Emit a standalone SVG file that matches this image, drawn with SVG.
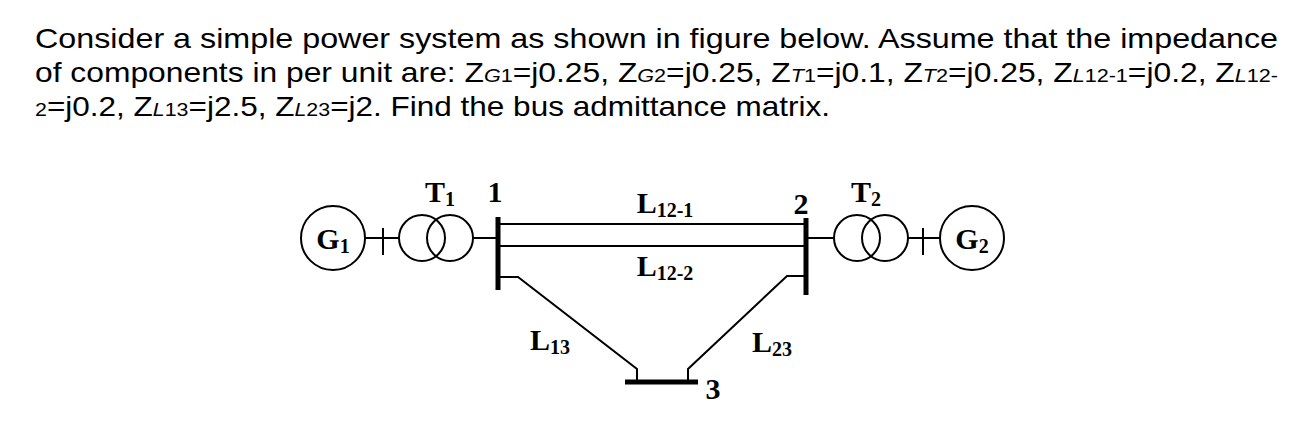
<svg xmlns="http://www.w3.org/2000/svg" width="1298" height="424" viewBox="0 0 1298 424">
<style>
.q{font-family:"Liberation Sans",Arial,sans-serif;font-size:28px;fill:#000}
.s{font-size:19px}
.l{font-family:"Liberation Serif","Times New Roman",serif;font-weight:bold;font-size:30px;fill:#000}
.ls{font-size:20px}
.w{stroke:#000;stroke-width:2;fill:none}
.b{stroke:#000;stroke-width:5;fill:none}
</style>
<rect width="1298" height="424" fill="#fff"/>
<text class="q" x="35" y="48" textLength="1243" lengthAdjust="spacingAndGlyphs">Consider a simple power system as shown in figure below. Assume that the impedance</text>
<text class="q" x="35" y="82" textLength="1243" lengthAdjust="spacingAndGlyphs">of components in per unit are: Z<tspan class="s" font-style="italic">G</tspan><tspan class="s">1</tspan>=j0.25, Z<tspan class="s" font-style="italic">G</tspan><tspan class="s">2</tspan>=j0.25, Z<tspan class="s" font-style="italic">T</tspan><tspan class="s">1</tspan>=j0.1, Z<tspan class="s" font-style="italic">T</tspan><tspan class="s">2</tspan>=j0.25, Z<tspan class="s" font-style="italic">L</tspan><tspan class="s">12-1</tspan>=j0.2, Z<tspan class="s" font-style="italic">L</tspan><tspan class="s">12-</tspan></text>
<text class="q" x="35" y="116" textLength="795" lengthAdjust="spacingAndGlyphs"><tspan class="s">2</tspan>=j0.2, Z<tspan class="s" font-style="italic">L</tspan><tspan class="s">13</tspan>=j2.5, Z<tspan class="s" font-style="italic">L</tspan><tspan class="s">23</tspan>=j2. Find the bus admittance matrix.</text>
<g id="G1"><circle class="w" cx="333" cy="238" r="32"/><text class="l" x="333" y="249" text-anchor="middle">G<tspan class="ls" dy="4">1</tspan></text></g>
<g id="T1"><circle class="w" cx="422" cy="238" r="23"/><circle class="w" cx="450" cy="238" r="23"/><text class="l" x="440" y="202" text-anchor="middle">T<tspan class="ls" dy="4">1</tspan></text></g>
<g id="bus1"><line class="b" x1="498" y1="217" x2="498" y2="290"/><text class="l" x="495" y="202" text-anchor="middle">1</text></g>
<g id="bus2"><line class="b" x1="806" y1="218" x2="806" y2="295"/><text class="l" x="801" y="214" text-anchor="middle">2</text></g>
<g id="bus3"><line class="b" x1="625" y1="382" x2="698" y2="382"/><text class="l" x="713" y="399" text-anchor="middle">3</text></g>
<g id="T2"><circle class="w" cx="857" cy="238" r="23"/><circle class="w" cx="885" cy="238" r="23"/><text class="l" x="866" y="202" text-anchor="middle">T<tspan class="ls" dy="4">2</tspan></text></g>
<g id="G2"><circle class="w" cx="972" cy="238" r="32"/><text class="l" x="972" y="249" text-anchor="middle">G<tspan class="ls" dy="4">2</tspan></text></g>
<g id="connectors">
<line class="w" x1="365" y1="238" x2="399" y2="238"/><line class="w" x1="383" y1="228" x2="383" y2="255"/>
<line class="w" x1="473" y1="238" x2="498" y2="238"/>
<line class="w" x1="498" y1="224" x2="806" y2="224"/>
<line class="w" x1="498" y1="246" x2="806" y2="246"/>
<polyline class="w" points="498,277 518,277 637,369 637,382"/>
<polyline class="w" points="806,276 787,276 688,369 688,382"/>
<line class="w" x1="806" y1="238" x2="834" y2="238"/>
<line class="w" x1="908" y1="238" x2="940" y2="238"/><line class="w" x1="923" y1="228" x2="923" y2="255"/>
</g>
<text class="l" x="665" y="213" text-anchor="middle">L<tspan class="ls" dy="4">12-1</tspan></text>
<text class="l" x="665" y="276" text-anchor="middle">L<tspan class="ls" dy="4">12-2</tspan></text>
<text class="l" x="550" y="350" text-anchor="middle">L<tspan class="ls" dy="4">13</tspan></text>
<text class="l" x="772" y="352" text-anchor="middle">L<tspan class="ls" dy="4">23</tspan></text>
</svg>
